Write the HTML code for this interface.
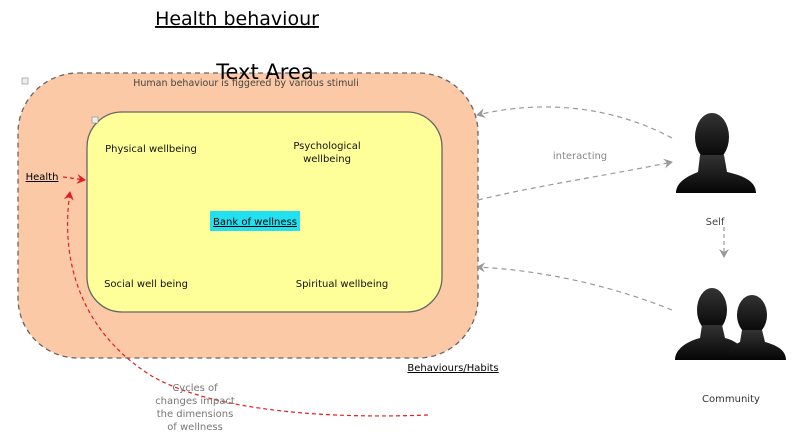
<!DOCTYPE html>
<html><head><style>
body{margin:0;background:#fff;}
svg{display:block;font-family:"DejaVu Sans",sans-serif;}
</style></head><body>
<svg width="800" height="440" viewBox="0 0 800 440" xmlns="http://www.w3.org/2000/svg">
<defs>
<marker id="ag" markerWidth="10" markerHeight="10" refX="8" refY="5" orient="auto" markerUnits="userSpaceOnUse"><path d="M0,0 L9,5 L0,10 L3,5z" fill="#999"/></marker>
<marker id="ar" markerWidth="10" markerHeight="10" refX="8" refY="5" orient="auto" markerUnits="userSpaceOnUse"><path d="M0,0 L9,5 L0,10 L3,5z" fill="#e02020"/></marker>
<linearGradient id="pg" x1="0" y1="0" x2="0" y2="1"><stop offset="0" stop-color="#333"/><stop offset="1" stop-color="#050505"/></linearGradient>
</defs>
<text x="237" y="25" font-size="19" text-anchor="middle" text-decoration="underline">Health behaviour</text>
<rect x="18" y="73" width="460" height="285" rx="60" fill="#fbc9a6" stroke="#666" stroke-dasharray="5,4" stroke-width="1.3"/>
<text x="265" y="79" font-size="21" text-anchor="middle">Text Area</text>
<text x="246" y="86" font-size="9.5" fill="#444" text-anchor="middle">Human behaviour is figgered by various stimuli</text>
<rect x="22" y="78" width="6" height="6" fill="#eee" stroke="#888" stroke-width="0.6"/>
<rect x="87" y="112" width="355" height="200" rx="35" fill="#ffff99" stroke="#666" stroke-width="1.3"/>
<rect x="92" y="117" width="6" height="6" fill="#eee" stroke="#888" stroke-width="0.6"/>
<g font-size="10" fill="#111" text-anchor="middle">
<text x="151" y="152">Physical wellbeing</text>
<text x="327" y="149">Psychological</text>
<text x="327" y="162">wellbeing</text>
<text x="146" y="287">Social well being</text>
<text x="342" y="287">Spiritual wellbeing</text>
</g>
<rect x="210" y="211" width="90" height="20" fill="#22e0f0"/>
<text x="255" y="225" font-size="10" text-anchor="middle" text-decoration="underline">Bank of wellness</text>
<text x="42" y="180" font-size="10" text-anchor="middle" text-decoration="underline">Health</text>
<path d="M63 177 L85 180" stroke="#e02020" stroke-dasharray="4,3" stroke-width="1.3" fill="none" marker-end="url(#ar)"/>
<path d="M428 415 C300 420 200 405 150 375 C80 330 60 260 70 192" stroke="#e02020" stroke-dasharray="4,3" stroke-width="1.2" fill="none" marker-end="url(#ar)"/>
<g font-size="10" fill="#777" text-anchor="middle">
<text x="195" y="391">Cycles of</text>
<text x="195" y="404">changes impact</text>
<text x="195" y="417">the dimensions</text>
<text x="195" y="430">of wellness</text>
</g>
<text x="453" y="371" font-size="10" text-anchor="middle" text-decoration="underline">Behaviours/Habits</text>
<path d="M672 138 C610 105 540 100 477 115" stroke="#999" stroke-dasharray="5,4" stroke-width="1.2" fill="none" marker-end="url(#ag)"/>
<path d="M478 200 C540 185 610 175 672 162" stroke="#999" stroke-dasharray="5,4" stroke-width="1.2" fill="none" marker-end="url(#ag)"/>
<text x="580" y="159" font-size="10" fill="#888" text-anchor="middle">interacting</text>
<path d="M672 310 C610 285 540 270 477 267" stroke="#999" stroke-dasharray="5,4" stroke-width="1.2" fill="none" marker-end="url(#ag)"/>
<path d="M724 227 L724 257" stroke="#999" stroke-dasharray="4,3" stroke-width="1.2" fill="none" marker-end="url(#ag)"/>
<g fill="url(#pg)">
<ellipse cx="712" cy="137" rx="17" ry="24"/>
<path d="M700 155 L724 155 L727 172 C745 176 756 182 756 193 L676 193 C676 182 688 176 698 172z"/>
<ellipse cx="712" cy="310" rx="15" ry="22"/>
<path d="M702 325 L722 325 L725 338 C740 342 745 350 745 360 L675 360 C675 350 685 342 700 338z"/>
<ellipse cx="752" cy="315" rx="15" ry="20"/>
<path d="M742 330 L762 330 L765 342 C780 346 786 352 786 360 L725 360 C725 352 732 346 740 342z"/>
</g>
<text x="715" y="225" font-size="10" fill="#444" text-anchor="middle">Self</text>
<text x="731" y="402" font-size="10" fill="#333" text-anchor="middle">Community</text>
</svg>
</body></html>
